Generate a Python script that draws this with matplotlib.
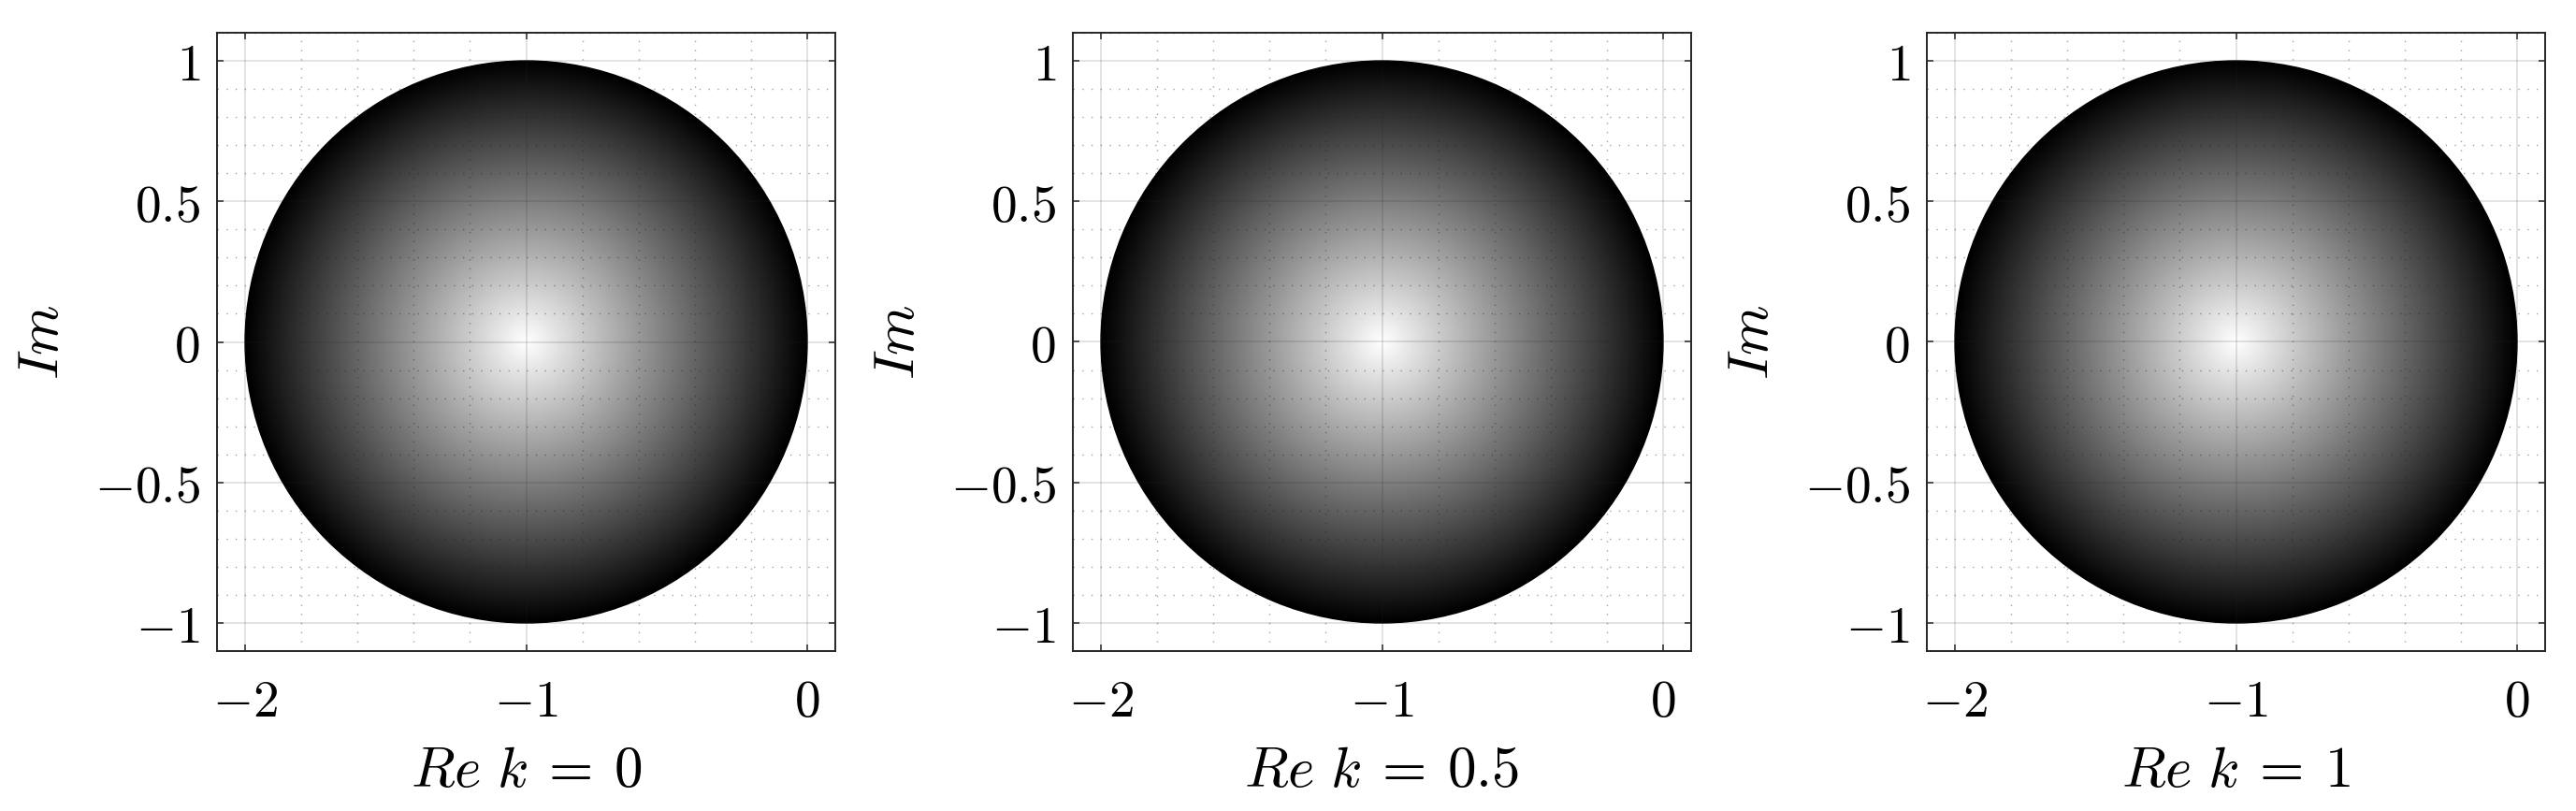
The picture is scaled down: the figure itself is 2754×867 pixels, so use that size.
import numpy as np
import matplotlib
matplotlib.use("Agg")
import matplotlib.pyplot as plt
from matplotlib.patches import Circle
from matplotlib.ticker import MultipleLocator

plt.rcParams["mathtext.fontset"] = "cm"
plt.rcParams["font.family"] = ["DejaVu Serif"]

# data
k_values = [0, 0.5, 1]
circle_center = (-1.0, 0.0)
circle_radius = 1.0
xticks = [-2, -1, 0]
yticks = [-1, -0.5, 0, 0.5, 1]
xlim = (-2.1, 0.1)
ylim = (-1.1, 1.1)

fig = plt.figure(figsize=(27.54, 8.67), dpi=100)
lefts = [232, 1147, 2060]
W, H = 2754, 867

# shading field: brightness falls from 1 at the centre to 0 at the rim
n = 800
xs = np.linspace(circle_center[0] - circle_radius, circle_center[0] + circle_radius, n)
ys = np.linspace(circle_center[1] - circle_radius, circle_center[1] + circle_radius, n)
X, Y = np.meshgrid(xs, ys)
R = np.hypot(X - circle_center[0], Y - circle_center[1]) / circle_radius
shade = np.clip(1 - R, 0, 1)

for i, k in enumerate(k_values):
    ax = fig.add_axes([lefts[i] / W, (H - 696) / H, 661 / W, 661 / H])
    im = ax.imshow(shade, cmap="gray", vmin=0, vmax=1, origin="lower",
                   extent=[xs[0], xs[-1], ys[0], ys[-1]], interpolation="bilinear",
                   zorder=0)
    clip = Circle(circle_center, circle_radius, transform=ax.transData)
    im.set_clip_path(clip)
    ax.add_patch(Circle(circle_center, circle_radius, fill=False, ec="black", lw=1.0, zorder=1))

    ax.set_xlim(*xlim)
    ax.set_ylim(*ylim)
    ax.set_aspect("equal")

    ax.set_xticks(xticks, labels=[f"${v:g}$" for v in xticks])
    ax.set_yticks(yticks, labels=[f"${v:g}$" for v in yticks])
    ax.xaxis.set_minor_locator(MultipleLocator(0.2))
    ax.yaxis.set_minor_locator(MultipleLocator(0.1))

    ax.set_axisbelow(False)
    ax.grid(True, which="major", color="#262626", alpha=0.15, lw=1.2)
    ax.grid(True, which="minor", color="#1a1a1a", alpha=0.4, lw=1.0, linestyle=(0, (1, 6)))

    ax.tick_params(which="major", direction="in", length=5, width=1.1, color="#262626",
                   top=True, right=True, labelsize=40)
    ax.tick_params(axis="x", which="major", pad=20)
    ax.tick_params(axis="y", which="major", pad=13)
    ax.tick_params(which="minor", length=0)
    for s in ax.spines.values():
        s.set_color("#262626")
        s.set_linewidth(1.4)

    ax.set_xlabel(rf"$Re\ k\:=\:{k:g}$", fontsize=44)
    ax.set_ylabel(r"$Im$", fontsize=44)
    ax.xaxis.set_label_coords(0.5, -0.148)
    ax.yaxis.set_label_coords(-0.237, 0.5)

fig.savefig("out.png", dpi=100, facecolor="white")
